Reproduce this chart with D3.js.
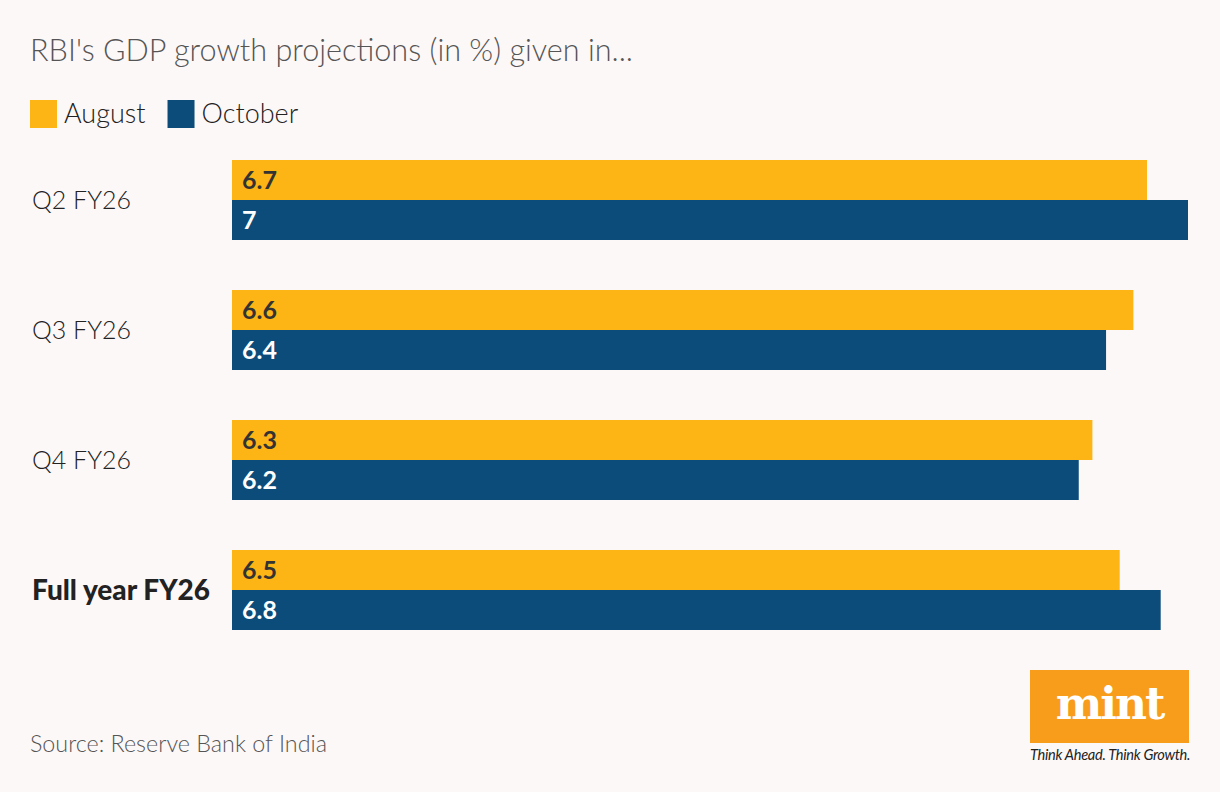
<!DOCTYPE html>
<html>
<head>
<meta charset="utf-8">
<script src="https://cdn.jsdelivr.net/npm/d3@7"></script>
<style>
  html, body { margin: 0; padding: 0; background: #fdf8f8; }
  svg { display: block; font-family: "Lato", "Open Sans", sans-serif; }
</style>
</head>
<body>
<div id="chart"></div>
<script>
const categories = ["Q2 FY26", "Q3 FY26", "Q4 FY26", "Full year FY26"];
const series = ["August", "October"];
const august = [6.7, 6.6, 6.3, 6.5];
const october = [7, 6.4, 6.2, 6.8];

const colors = { August: "#fdb515", October: "#0b4c7a" };
const labelColors = { August: "#333333", October: "#ffffff" };

const width = 1220;
const height = 792;

const svg = d3
  .select("#chart")
  .append("svg")
  .attr("width", width)
  .attr("height", height);

svg.append("rect").attr("width", width).attr("height", height).attr("fill", "#fdf8f8");

// title
svg
  .append("text")
  .attr("x", 30)
  .attr("y", 61)
  .attr("fill", "#555555")
  .style("font-size", "30.6px")
  .style("font-weight", 300)
  .text("RBI's GDP growth projections (in %) given in...");

// legend
const legend = svg.append("g").attr("transform", "translate(30,100)");
let lx = 0;
series.forEach((s) => {
  const g = legend.append("g").attr("transform", "translate(" + lx + ",0)");
  g.append("rect").attr("width", 27).attr("height", 28).attr("fill", colors[s]);
  const t = g
    .append("text")
    .attr("x", 34)
    .attr("y", 23)
    .attr("fill", "#222222")
    .style("font-size", "27px")
    .style("font-weight", 300)
    .text(s);
  lx += 34 + t.node().getComputedTextLength() + 22;
});

const rows = categories.map((c, i) => ({
  category: c,
  values: [
    { key: "August", value: august[i] },
    { key: "October", value: october[i] },
  ],
}));

const x = d3.scaleLinear().domain([0, 7]).range([232, 1188]);
const y = d3.scaleBand().domain(categories).range([135, 655]).paddingInner(0.3846).paddingOuter(0.1923);
const y1 = d3.scaleBand().domain(series).range([0, y.bandwidth()]);

const group = svg
  .selectAll(".group")
  .data(rows)
  .enter()
  .append("g")
  .attr("class", "group")
  .attr("transform", (d) => "translate(0," + y(d.category) + ")");

const last = categories.length - 1;
group
  .append("text")
  .attr("x", 32)
  .attr("y", y.bandwidth() / 2)
  .attr("dy", "0.36em")
  .attr("fill", "#222222")
  .style("font-size", (d, i) => (i === last ? "28px" : "25px"))
  .style("font-weight", (d, i) => (i === last ? 900 : 300))
  .text((d) => d.category);

const bar = group
  .selectAll(".bar")
  .data((d) => d.values)
  .enter()
  .append("g")
  .attr("class", "bar");

bar
  .append("rect")
  .attr("x", x(0))
  .attr("y", (d) => y1(d.key))
  .attr("width", (d) => x(d.value) - x(0))
  .attr("height", y1.bandwidth())
  .attr("fill", (d) => colors[d.key]);

bar
  .append("text")
  .attr("x", x(0) + 10)
  .attr("y", (d) => y1(d.key) + y1.bandwidth() / 2)
  .attr("dy", "0.36em")
  .attr("fill", (d) => labelColors[d.key])
  .style("font-size", "25px")
  .style("font-weight", 700)
  .text((d) => d.value);

// source
svg
  .append("text")
  .attr("x", 30)
  .attr("y", 752)
  .attr("fill", "#555555")
  .style("font-size", "23.3px")
  .style("font-weight", 300)
  .text("Source: Reserve Bank of India");

// logo
const logo = svg.append("g").attr("transform", "translate(1030,670)");
logo.append("rect").attr("width", 159).attr("height", 73).attr("fill", "#f89c1c");
logo
  .append("text")
  .attr("x", 79.5)
  .attr("y", 49)
  .attr("text-anchor", "middle")
  .attr("fill", "#ffffff")
  .style("font-family", "'DejaVu Serif', serif")
  .style("font-size", "44px")
  .style("font-weight", 900)
  .style("letter-spacing", "-2px")
  .text("mint");
logo
  .append("text")
  .attr("x", 0)
  .attr("y", 90)
  .attr("fill", "#222222")
  .style("font-size", "14.6px")
  .style("font-style", "italic")
  .style("letter-spacing", "-0.3px")
  .text("Think Ahead. Think Growth.");
</script>
</body>
</html>
